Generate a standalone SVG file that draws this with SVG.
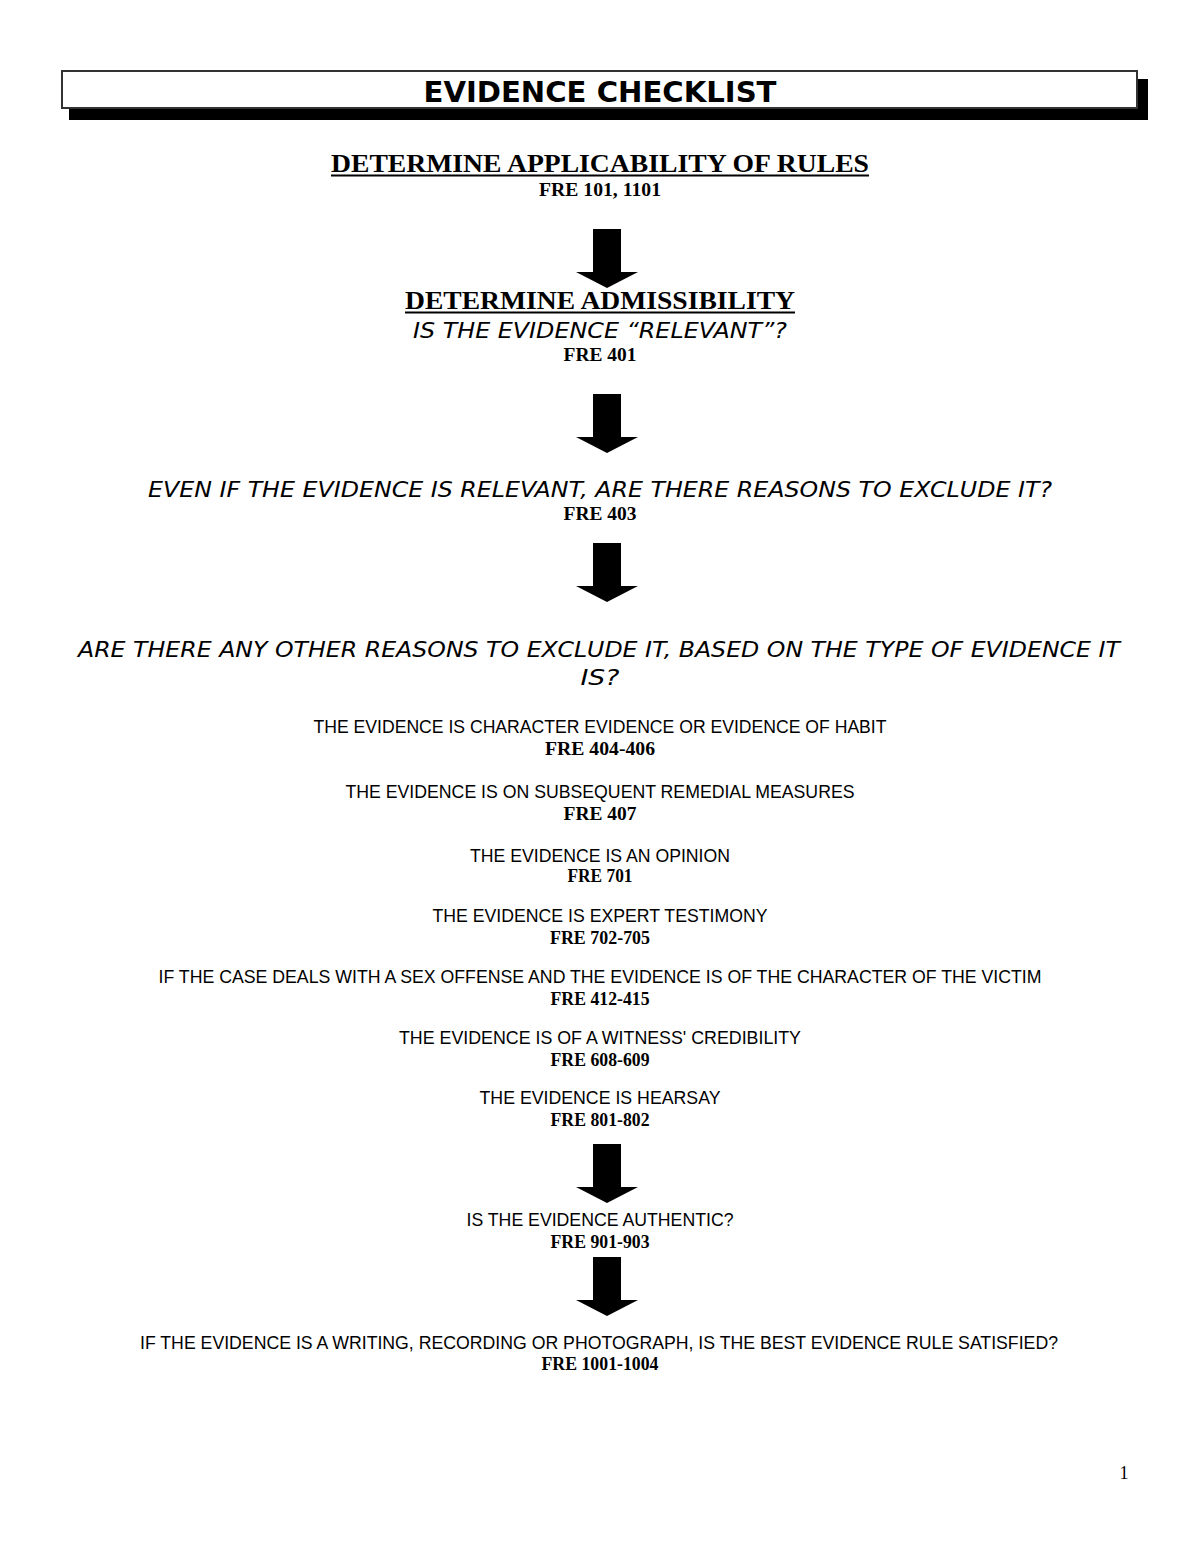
<svg xmlns="http://www.w3.org/2000/svg" width="1200" height="1553" viewBox="0 0 1200 1553">
<style>
.h{font-family:"Liberation Serif","Times New Roman",serif;font-weight:bold;font-size:25px;fill:#000;text-anchor:middle}
.fre{font-family:"Liberation Serif","Times New Roman",serif;font-weight:bold;font-size:19.5px;fill:#000;text-anchor:middle}
.it{font-family:"DejaVu Sans",Verdana,sans-serif;font-style:italic;font-size:20.5px;fill:#000;text-anchor:middle}
.p{font-family:"Liberation Sans",Arial,sans-serif;font-size:17.5px;fill:#000;text-anchor:middle}
.t{font-family:"DejaVu Sans",Verdana,sans-serif;font-weight:bold;font-size:29px;fill:#000;text-anchor:middle}
.ul{stroke:#000;stroke-width:2}
.arr{fill:#000}
</style>
<defs>
<path id="arrow" d="M-14,0 H14 V43 H31 L0,59 L-31,43 H-14 Z"/>
</defs>
<rect width="1200" height="1553" fill="#fff"/>
<g id="title">
<rect x="69" y="79" width="1079" height="41" fill="#000"/>
<rect x="62" y="71" width="1075" height="37" fill="#fff" stroke="#333" stroke-width="2"/>
<text class="t" x="600" y="102" textLength="353" lengthAdjust="spacingAndGlyphs">EVIDENCE CHECKLIST</text>
</g>
<g id="node-applicability">
<text class="h" x="600" y="172" textLength="538" lengthAdjust="spacingAndGlyphs">DETERMINE APPLICABILITY OF RULES</text>
<line class="ul" x1="331" y1="175.5" x2="869" y2="175.5"/>
<text class="fre" x="600" y="196" textLength="122" lengthAdjust="spacingAndGlyphs">FRE 101, 1101</text>
</g>
<g id="node-admissibility">
<text class="h" x="600" y="309" textLength="390" lengthAdjust="spacingAndGlyphs">DETERMINE ADMISSIBILITY</text>
<line class="ul" x1="405" y1="312.5" x2="795" y2="312.5"/>
<text class="it" x="600" y="338" textLength="374" lengthAdjust="spacingAndGlyphs">IS THE EVIDENCE “RELEVANT”?</text>
<text class="fre" x="600" y="361" textLength="73" lengthAdjust="spacingAndGlyphs">FRE 401</text>
</g>
<g id="node-403">
<text class="it" x="600" y="497" textLength="904" lengthAdjust="spacingAndGlyphs">EVEN IF THE EVIDENCE IS RELEVANT, ARE THERE REASONS TO EXCLUDE IT?</text>
<text class="fre" x="600" y="520" textLength="73" lengthAdjust="spacingAndGlyphs">FRE 403</text>
</g>
<g id="node-type">
<text class="it" x="599" y="657" textLength="1042" lengthAdjust="spacingAndGlyphs">ARE THERE ANY OTHER REASONS TO EXCLUDE IT, BASED ON THE TYPE OF EVIDENCE IT</text>
<text class="it" x="600" y="685" textLength="39" lengthAdjust="spacingAndGlyphs">IS?</text>
<text class="p" x="600" y="733" textLength="573" lengthAdjust="spacingAndGlyphs">THE EVIDENCE IS CHARACTER EVIDENCE OR EVIDENCE OF HABIT</text>
<text class="fre" x="600" y="755" textLength="110" lengthAdjust="spacingAndGlyphs">FRE 404-406</text>
<text class="p" x="600" y="798" textLength="509" lengthAdjust="spacingAndGlyphs">THE EVIDENCE IS ON SUBSEQUENT REMEDIAL MEASURES</text>
<text class="fre" x="600" y="820" textLength="73" lengthAdjust="spacingAndGlyphs">FRE 407</text>
<text class="p" x="600" y="862" textLength="260" lengthAdjust="spacingAndGlyphs">THE EVIDENCE IS AN OPINION</text>
<text class="fre" x="600" y="882" textLength="65" lengthAdjust="spacingAndGlyphs">FRE 701</text>
<text class="p" x="600" y="922" textLength="335" lengthAdjust="spacingAndGlyphs">THE EVIDENCE IS EXPERT TESTIMONY</text>
<text class="fre" x="600" y="944" textLength="100" lengthAdjust="spacingAndGlyphs">FRE 702-705</text>
<text class="p" x="600" y="983" textLength="883" lengthAdjust="spacingAndGlyphs">IF THE CASE DEALS WITH A SEX OFFENSE AND THE EVIDENCE IS OF THE CHARACTER OF THE VICTIM</text>
<text class="fre" x="600" y="1005" textLength="99" lengthAdjust="spacingAndGlyphs">FRE 412-415</text>
<text class="p" x="600" y="1044" textLength="402" lengthAdjust="spacingAndGlyphs">THE EVIDENCE IS OF A WITNESS' CREDIBILITY</text>
<text class="fre" x="600" y="1066" textLength="99" lengthAdjust="spacingAndGlyphs">FRE 608-609</text>
<text class="p" x="600" y="1104" textLength="241" lengthAdjust="spacingAndGlyphs">THE EVIDENCE IS HEARSAY</text>
<text class="fre" x="600" y="1126" textLength="99" lengthAdjust="spacingAndGlyphs">FRE 801-802</text>
</g>
<g id="node-authentic">
<text class="p" x="600" y="1226" textLength="267" lengthAdjust="spacingAndGlyphs">IS THE EVIDENCE AUTHENTIC?</text>
<text class="fre" x="600" y="1248" textLength="99" lengthAdjust="spacingAndGlyphs">FRE 901-903</text>
</g>
<g id="node-best-evidence">
<text class="p" x="599" y="1349" textLength="918" lengthAdjust="spacingAndGlyphs">IF THE EVIDENCE IS A WRITING, RECORDING OR PHOTOGRAPH, IS THE BEST EVIDENCE RULE SATISFIED?</text>
<text class="fre" x="600" y="1370" textLength="117" lengthAdjust="spacingAndGlyphs">FRE 1001-1004</text>
</g>
<g id="page-number">
<text x="1124" y="1479" font-family="Liberation Serif,'Times New Roman',serif" font-size="18" text-anchor="middle" fill="#000">1</text>
</g>
<g id="connectors" class="arr">
<use href="#arrow" x="607" y="229"/>
<use href="#arrow" x="607" y="394"/>
<use href="#arrow" x="607" y="543"/>
<use href="#arrow" x="607" y="1144"/>
<use href="#arrow" x="607" y="1257"/>
</g>
</svg>
